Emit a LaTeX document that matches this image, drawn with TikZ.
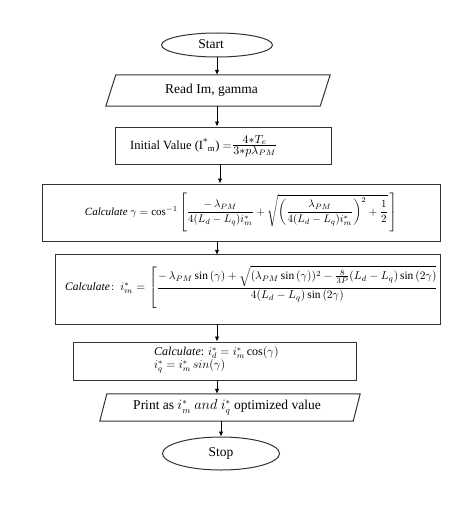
\documentclass[tikz,border=0pt]{standalone}
\usepackage{amsmath}
\usepackage{graphicx}
\usepackage{fontspec}
\setmainfont{Liberation Serif}
\usetikzlibrary{shapes.geometric,arrows.meta,calc}
\begin{document}
\begin{tikzpicture}[x=1pt,y=-1pt,
  line/.style={draw=black!80, line width=1pt},
  term/.style={line, ellipse, inner sep=0pt},
  boxnode/.style={line, rectangle, inner sep=0pt},
  ionode/.style={rectangle, inner sep=0pt},
  txt/.style={inner sep=0pt, font=\fontsize{13.5}{16}\selectfont},
  arr/.style={draw=black, line width=0.8pt, -{Latex[length=5pt,width=4.5pt]}}]
\useasboundingbox (0,0) rectangle (474,511);

% Start
\node[term, minimum width=111pt, minimum height=24pt] (start) at (217,45) {};
\node[txt] (starttxt) at (211,44.5) {Start};

% Read
\node[ionode, minimum width=214pt, minimum height=31pt] (read) at (218,90.5) {};
\draw[line] ($(read.north west)+(5,0)$) -- ($(read.north east)+(5,0)$) -- ($(read.south east)+(-5,0)$) -- ($(read.south west)+(-5,0)$) -- cycle;
\node[txt] (readtxt) at (211.5,90.5) {Read Im, gamma};

% Initial value
\node[boxnode, minimum width=216pt, minimum height=37pt] (init) at (223,145.5) {};
\node[txt, anchor=west, font=\fontsize{12.5}{15}\selectfont] (inittxt) at (130,146) {Initial Value (I\textsuperscript{*}\textsubscript{m}) $=$\resizebox{46pt}{!}{$\frac{4*T_e}{3*p\lambda_{PM}}$}};

% Calculate gamma
\node[boxnode, minimum width=398pt, minimum height=57pt] (gam) at (241,212.5) {};
\node[inner sep=0pt] (gamtxt) at (241,212.5) {\resizebox{312pt}{!}{$\mathit{Calculate}\ \gamma=\cos^{-1}\left[\dfrac{-\,\lambda_{PM}}{4(L_d-L_q)i_m^*}+\sqrt{\left(\dfrac{\lambda_{PM}}{4(L_d-L_q)i_m^*}\right)^{2}+\dfrac{1}{2}}\,\right]$}};

% Calculate i_m
\node[ionode, minimum width=384pt, minimum height=69pt] (imb) at (248,289.5) {};
\begin{scope}
\clip (imb.north west) rectangle (imb.south east);
\node[inner sep=0pt, anchor=west] (imtxt) at (65,287) {\resizebox{80pt}{!}{$\mathit{Calculate}\!:\ i_m^*=$}\hspace{4pt}\resizebox{290pt}{!}{$\left[\dfrac{-\,\lambda_{PM}\sin\,(\gamma)+\sqrt{(\lambda_{PM}\sin\,(\gamma))^2-\frac{8}{3P}(L_d-L_q)\sin\,(2\gamma)}}{4(L_d-L_q)\sin\,(2\gamma)}\right.$}};
\end{scope}
\draw[line] (imb.north west) rectangle (imb.south east);

% Calculate i_d, i_q
\node[boxnode, minimum width=283pt, minimum height=38pt] (idb) at (214.5,361) {};
\node[inner sep=0pt, anchor=west, align=left, font=\fontsize{12}{13.5}\selectfont] (idtxt) at (154,360) {$\mathit{Calculate}$: $i_d^*=i_m^*\cos(\gamma)$\\$i_q^*=i_m^*\,sin(\gamma)$};

% Print
\node[ionode, minimum width=253pt, minimum height=27pt] (print) at (230,407.5) {};
\draw[line] ($(print.north west)+(3.5,0)$) -- ($(print.north east)+(3.5,0)$) -- ($(print.south east)+(-3.5,0)$) -- ($(print.south west)+(-3.5,0)$) -- cycle;
\node[txt] (printtxt) at (227,407.5) {Print as $i_m^*\ and\ i_q^*$ optimized value};

% Stop
\node[term, minimum width=117pt, minimum height=33pt] (stop) at (221,453.5) {};
\node[txt] (stoptxt) at (221,453.5) {Stop};

% connectors
\draw[arr] (start.south) -- (start.south |- read.north);
\draw[arr] (read.south -| start) -- (init.north -| start);
\draw[arr] ($(init.south -| start)+(3,0)$) -- ($(gam.north -| start)+(3,0)$);
\draw[arr] (gam.south -| start) -- (imb.north -| start);
\draw[arr] (imb.south -| start) -- (idb.north -| start);
\draw[arr] (idb.south -| start) -- (print.north -| start);
\draw[arr] (print.south -| stop) -- (stop.north);
\end{tikzpicture}
\end{document}
